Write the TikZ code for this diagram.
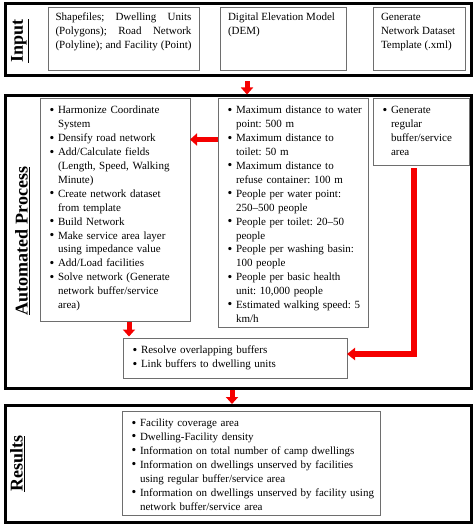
\documentclass[tikz,border=0pt]{standalone}
\usepackage{fontspec}
\setmainfont{Liberation Serif}
\usetikzlibrary{arrows.meta,calc}
\definecolor{arrred}{RGB}{245,0,0}
\definecolor{boxgray}{RGB}{110,110,110}
\newcommand\bitem[1]{\par\noindent\hangindent=8.5pt\hangafter=1\makebox[8.5pt][l]{\raisebox{-0.4pt}{\fontsize{13.5}{13.9}\selectfont\textbullet}}#1\par}
\frenchspacing
\begin{document}
\begin{tikzpicture}[x=1pt,y=-1pt,
  outerbox/.style={draw=black, line width=3pt, anchor=north west, inner sep=0pt, outer sep=0pt},
  ibox/.style={draw=boxgray, line width=0.9pt, anchor=north west, inner sep=0pt, outer sep=0pt},
  txt/.style={inner sep=0pt, outer sep=0pt, anchor=north west, align=left, font=\fontsize{11}{13.9}\selectfont},
  lbl/.style={rotate=90, font=\fontsize{18}{20}\selectfont\bfseries, inner sep=0pt},
  redarr/.style={draw=arrred, line width=5pt, -{Triangle[length=7pt,width=12pt]}}]
\useasboundingbox (0,0) rectangle (474,524);
\fill[white] (0,0) rectangle (474,524);
% outer section boxes
\node[outerbox, minimum width=466pt, minimum height=71.5pt] (IN) at (5,4) {};
\node[outerbox, minimum width=466pt, minimum height=292pt] (PR) at (5,96) {};
\node[outerbox, minimum width=466pt, minimum height=116.5pt] (RS) at (5,405.5) {};
% section labels
\node[lbl] (Lin) at (20,41) {\underline{Input}};
\node[lbl] (Lpr) at (22.5,241) {\underline{Automated Process}};
\node[lbl] (Lrs) at (17.5,463.5) {\underline{Results}};
% input boxes
\node[ibox, minimum width=151pt, minimum height=63.4pt] (I1) at (48.3,7.3) {};
\node[ibox, minimum width=126.7pt, minimum height=63.4pt] (I2) at (220,7.3) {};
\node[ibox, minimum width=91.7pt, minimum height=63.4pt] (I3) at (373.3,7.3) {};
\node[txt] (I1t) at (55.5,13) {\makebox[136pt][s]{Shapefiles; Dwelling Units}\\\makebox[136pt][s]{(Polygons); Road Network}\\\makebox[136pt][s]{(Polyline); and Facility (Point)}};
\node[txt] (I2t) at (228,13) {Digital Elevation Model\\(DEM)};
\node[txt] (I3t) at (381,13) {Generate\\Network Dataset\\Template (.xml)};
% process boxes
\node[ibox, minimum width=150pt, minimum height=223.4pt] (L) at (40,98.3) {};
\node[ibox, minimum width=150pt, minimum height=229pt] (M) at (218,98) {};
\node[ibox, minimum width=96pt, minimum height=67pt] (R) at (373,98) {};
\node[ibox, minimum width=224pt, minimum height=40pt] (S) at (123,338) {};
\node[txt, text width=138pt] (Lt) at (49.5,100) {%
\bitem{Harmonize Coordinate\newline System}
\bitem{Densify road network}
\bitem{Add/Calculate fields\newline (Length, Speed, Walking\newline Minute)}
\bitem{Create network dataset\newline from template}
\bitem{Build Network}
\bitem{Make service area layer\newline using impedance value}
\bitem{Add/Load facilities}
\bitem{Solve network (Generate\newline network buffer/service\newline area)}};
\node[txt, text width=138pt] (Mt) at (227.5,100) {%
\bitem{Maximum distance to water\newline point: 500 m}
\bitem{Maximum distance to\newline toilet: 50 m}
\bitem{Maximum distance to\newline refuse container: 100 m}
\bitem{People per water point:\newline 250–500 people}
\bitem{People per toilet: 20–50\newline people}
\bitem{People per washing basin:\newline 100 people}
\bitem{People per basic health\newline unit: 10,000 people}
\bitem{Estimated walking speed: 5\newline km/h}};
\node[txt, text width=85pt] (Rt) at (382.5,100) {%
\bitem{Generate\newline regular\newline buffer/service\newline area}};
\node[txt, text width=215pt] (St) at (132.5,340) {%
\bitem{Resolve overlapping buffers}
\bitem{Link buffers to dwelling units}};
% results box
\node[ibox, minimum width=258pt, minimum height=104pt] (T) at (122,411) {};
\node[txt, text width=250pt] (Tt) at (131.5,412.7) {%
\bitem{Facility coverage area}
\bitem{Dwelling-Facility density}
\bitem{Information on total number of camp dwellings}
\bitem{Information on dwellings unserved by facilities\newline using regular buffer/service area}
\bitem{Information on dwellings unserved by facility using\newline network buffer/service area}};
% connectors
\draw[redarr] ($(IN.south)+(9,6)$) -- ($(PR.north)+(9,-1.5)$);
\draw[redarr] ($(M.north west)+(0,41.5)$) -- ($(L.north east)+(0,41.2)$);
\draw[redarr] ($(L.south)+(14,0)$) -- ($(S.north west)+(6,-1.5)$);
\draw[redarr, line width=6pt, -{Triangle[length=8pt,width=12pt]}, line join=miter] ($(R.south)+(-7,3)$) |- ($(S.north east)!0.4!(S.south east)$);
\draw[redarr] ($(PR.south)+(-6,1.5)$) -- ($(RS.north)+(-6,-1.5)$);
\end{tikzpicture}
\end{document}
